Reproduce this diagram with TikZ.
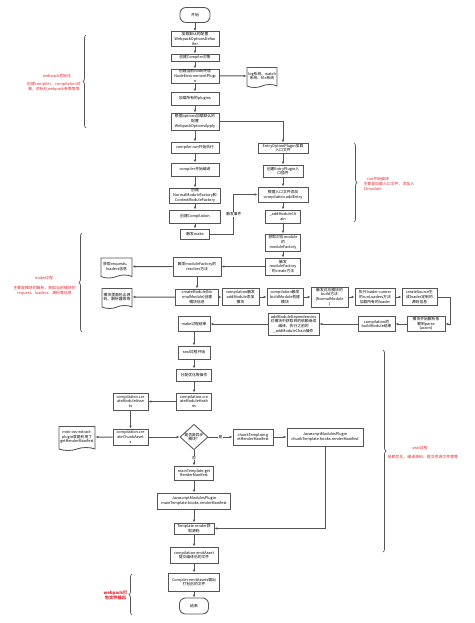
\documentclass[tikz,border=0pt]{standalone}
\usepackage{fontspec}
\setmainfont{Noto Sans CJK SC}
\usetikzlibrary{arrows.meta,shapes.geometric,shapes.symbols,decorations.pathreplacing}
\definecolor{boxline}{HTML}{555555}
\definecolor{noteRed}{HTML}{E8202A}

\begin{document}
\begin{tikzpicture}[x=1pt, y=-1pt, font=\fontsize{3.8}{4.7}\selectfont,
  >={Latex[length=3pt,width=2.6pt]},
  stepbox/.style={draw=boxline, line width=0.85pt, fill=white, align=center, inner sep=0.5pt},
  termbox/.style={stepbox, rounded corners=6pt},
  docbox/.style={stepbox, shape=tape, tape bend top=none, tape bend height=3pt},
  decide/.style={stepbox, shape=diamond, aspect=1.1, inner sep=0pt},
  conn/.style={draw=boxline, line width=1pt},
  lbl/.style={fill=white, inner sep=0.6pt},
  note/.style={text=noteRed, align=center, font=\fontsize{3.9}{5}\selectfont},
  curly/.style={draw=boxline, line width=0.7pt, decorate, decoration={brace, amplitude=3pt}},
  every edge/.style={conn, ->}
]
\useasboundingbox (0,0) rectangle (474,623);
%\draw[help lines, step=10] (0,0) grid (474,623);
\node (start) [termbox, minimum width=30, minimum height=15] at (195,15) {开始};
\node (defaults) [stepbox, minimum width=48, minimum height=15] at (195,39) {加载默认的配置\\WebpackOptionsDefau\\lter};
\node (compiler) [stepbox, minimum width=48, minimum height=7] at (195,57.5) {创建Compiler对象};
\node (nodeEnv) [stepbox, minimum width=48, minimum height=14] at (195,76) {创建当前node环境\\NodeEnvironmentPlugi\\n};
\node (plugins) [stepbox, minimum width=48, minimum height=13] at (195,98.5) {加载所有的plugins};
\node (optApply) [stepbox, minimum width=48, minimum height=17] at (195,121.5) {根据options加载默认的\\配置\\WebpackOptionsApply};
\node (run) [stepbox, minimum width=48, minimum height=11] at (195,147.5) {compiler.run开始执行};
\node (compile) [stepbox, minimum width=48, minimum height=13] at (195,169.5) {compiler开始编译};
\node (factories) [stepbox, minimum width=51, minimum height=15] at (195,195.5) {创建\\NormalModuleFactory和\\ContextModuleFactory};
\node (compilation) [stepbox, minimum width=51, minimum height=13] at (195,216.5) {创建Compilation};
\node (make) [stepbox, minimum width=29, minimum height=10] at (195,234) {触发make};

\node (logDoc) [docbox, minimum width=30, minimum height=20] at (262,76) {log系统、watch\\系统、file系统};
\node (entryOpt) [stepbox, minimum width=50, minimum height=10] at (283,148) {EntryOptionPlugin加载\\入口文件};
\node (entryPlugin) [stepbox, minimum width=40, minimum height=12] at (283,171) {创建EntryPlugin入\\口插件};
\node (addEntry) [stepbox, minimum width=50, minimum height=15] at (283,194.5) {根据入口文件添加\\compilation.addEntry};
\node (moduleChain) [stepbox, minimum width=35, minimum height=13] at (283,216.5) {\_addModuleCh\\ain};
\node (getFactory) [stepbox, minimum width=35, minimum height=17] at (283,242.5) {获取对应module\\的\\moduleFactory};
\node (create) [stepbox, minimum width=35, minimum height=17] at (283,266.5) {触发\\moduleFactory\\的create方法};

\node (resolver) [stepbox, minimum width=48, minimum height=19] at (197,266.5) {触发moduleFactory的\\resolver方法};
\node (reqDoc) [docbox, minimum width=31, minimum height=20] at (116.5,266.5) {获取requests、\\loaders信息};
\node (createModule) [stepbox, minimum width=43, minimum height=16] at (197,297) {createModule(No\\rmalModule)创建\\模块信息};
\node (srcDoc) [docbox, minimum width=30, minimum height=20] at (117,297) {模块里面包含源\\码、解析器等等};
\node (addModule) [stepbox, minimum width=37, minimum height=17] at (240.5,297) {compilation触发\\addModule添加\\模块};
\node (buildModule) [stepbox, minimum width=36, minimum height=17] at (285,297) {compilation触发\\buildModule构建\\模块};
\node (build) [stepbox, minimum width=37, minimum height=20] at (329.5,297) {触发对应模块的\\build方法\\(NormalModule\\)};
\node (runLoaders) [stepbox, minimum width=40, minimum height=17] at (375,297) {执行loader-runner\\的runLoaders方法\\加载所有的loader};
\node (createSource) [stepbox, minimum width=35, minimum height=17] at (419.5,297) {createSource生\\成loader定制的\\源码信息};
\node (parse) [stepbox, minimum width=38, minimum height=15] at (426,324) {模块开始解析依\\赖到parse\\(acorn)};
\node (buildEnd) [stepbox, minimum width=37, minimum height=15] at (376.5,324) {compilation的\\buildModule结束};
\node (deps) [stepbox, minimum width=51, minimum height=22] at (293.5,324) {addModuleDependencies\\对模块中获取到的依赖继续\\编译，执行之前的\\\_addModuleChain操作};
\node (makeEnd) [stepbox, minimum width=32, minimum height=15] at (194,324) {make过程结束};

\node (sealStart) [stepbox, minimum width=32, minimum height=13] at (194,352.5) {seal过程开始};
\node (optimize) [stepbox, minimum width=35, minimum height=12] at (194,375) {分配优化等操作};
\node (moduleHash) [stepbox, minimum width=35, minimum height=17] at (194,401.5) {compilation.cre\\ateModuleHash\\es};
\node (moduleAssets) [stepbox, minimum width=35, minimum height=17] at (130.5,401.5) {compilation.cre\\ateModuleAsse\\ts};
\node (chunkAssets) [stepbox, minimum width=35, minimum height=16] at (130.5,437) {compilation.cre\\ateChunkAsset\\s};
\node (cssDoc) [docbox, minimum width=36, minimum height=24] at (77,437) {mini-css-extract-\\plugin就是利用了\\getRenderManifest};
\node (isAsync) [decide, minimum width=26, minimum height=24] at (194,437) {是否是异步\\模块？};
\node (chunkTmpl) [stepbox, minimum width=40, minimum height=16] at (253,437) {chunkTemplate.g\\etRenderManifest};
\node (jsChunk) [stepbox, minimum width=76, minimum height=18] at (325,437) {JavascriptModulesPlugin\\chunkTemplate.hooks.renderManifest};
\node (mainTmpl) [stepbox, minimum width=39, minimum height=14] at (194,473) {mainTemplate.get\\RenderManifest};
\node (jsMain) [stepbox, minimum width=73, minimum height=16] at (194,501) {JavascriptModulesPlugin\\mainTemplate.hooks.renderManifest};
\node (render) [stepbox, minimum width=40, minimum height=11] at (194,528.5) {Template.render获\\取源码};
\node (emitAsset) [stepbox, minimum width=48, minimum height=16] at (194,555) {compilation.emitAsset\\提交编译后的文件};
\node (emitAssets) [stepbox, minimum width=51, minimum height=18] at (194,582) {Compiler.emitAssets输出\\打包后的文件};
\node (end) [termbox, minimum width=29, minimum height=16] at (194,606) {结束};

\node (initTitle) [note] at (57,76) {webpack初始化};
\node (initNote) [note] at (54,86.5) {创建compiler、compilation对\\象，初始化webpack参数等等};
\node (runTitle) [note] at (378,179) {run开始编译};
\node (runNote) [note, align=left, anchor=west] at (360,186.5) {主要是加载入口文件，添加入\\口module};
\node (makeTitle) [note] at (44,278) {make过程};
\node (makeNote) [note] at (44.5,290.5) {主要是模块的解析，获取当前模块的\\request、loaders、源码等信息};
\node (sealTitle) [note] at (420,448) {seal过程};
\node (sealNote) [note] at (423,457) {依赖优化、编译源码、提交资源文件等等};
\node (outNote) [note, font=\fontsize{4.3}{5.2}\selectfont\bfseries] at (115.5,595.5) {webpack打\\包文件输出};

\draw [curly] (86,128) -- (86,35);
\draw [curly] (354,143) -- (354,222);
\draw [curly] (82,332) -- (82,233);
\draw [curly] (383,350) -- (383,552);
\draw [curly] (132,615) -- (132,574);

\path
(start) edge (defaults)
(defaults) edge (compiler)
(compiler) edge (nodeEnv)
(nodeEnv) edge (plugins)
(plugins) edge (optApply)
(optApply) edge (run)
(run) edge (compile)
(compile) edge (factories)
(factories) edge (compilation)
(compilation) edge (make)
(nodeEnv) edge (logDoc)
(entryOpt) edge (entryPlugin)
(entryPlugin) edge (addEntry)
(addEntry) edge (moduleChain)
(moduleChain) edge (getFactory)
(getFactory) edge (create)
(create) edge (resolver)
(resolver) edge (reqDoc)
(resolver) edge (createModule)
(createModule) edge (srcDoc)
(createModule) edge (addModule)
(addModule) edge (buildModule)
(buildModule) edge (build)
(build) edge (runLoaders)
(runLoaders) edge (createSource)
(parse) edge (buildEnd)
(buildEnd) edge (deps)
(deps) edge (makeEnd)
(makeEnd) edge (sealStart)
(sealStart) edge (optimize)
(optimize) edge (moduleHash)
(moduleHash) edge (moduleAssets)
(moduleAssets) edge (chunkAssets)
(chunkAssets) edge (cssDoc)
(chunkAssets) edge (isAsync)
(isAsync) edge node [lbl] {是} (chunkTmpl)
(isAsync) edge node [lbl] {否} (mainTmpl)
(chunkTmpl) edge (jsChunk)
(mainTmpl) edge (jsMain)
(jsMain) edge (render)
(render) edge (emitAsset)
(emitAsset) edge (emitAssets)
(emitAssets) edge (end);
\draw [conn, ->] (optApply.east) -| (entryOpt.north);
\draw [conn, ->] (make.east) -- ++(24,0) |- node [lbl, pos=0.25] {触发事件} (addEntry.west);
\draw [conn, ->] (createSource.east) -- ++(13,0) |- (parse.east);
\draw [conn, ->] (jsChunk.south) |- (render.east);
\end{tikzpicture}
\end{document}
